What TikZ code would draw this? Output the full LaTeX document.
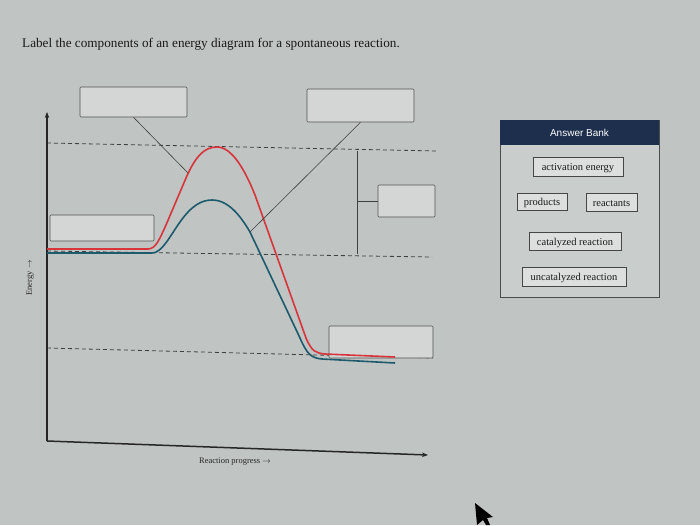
\documentclass[tikz,border=0pt]{standalone}
\usepackage{fontspec}
\setmainfont{Liberation Serif}
\newfontfamily\banksans{Liberation Sans}
\usetikzlibrary{arrows.meta,shadows}
\definecolor{screen}{HTML}{C0C4C2}
\definecolor{bankblue}{HTML}{1E2F4D}
\definecolor{uncatred}{HTML}{D8343C}
\definecolor{catblue}{HTML}{1D5B6C}
\tikzset{
  ansbox/.style={draw=gray!65!black,rounded corners=1pt,fill=white!30!screen,
    inner sep=0pt,line width=0.6pt},
  chip/.style={draw=gray!55!black,fill=white!45!screen,inner sep=0pt,
    text height=8pt,text depth=0pt,
    font=\fontsize{10.5}{11}\selectfont,text=black!90,line width=0.6pt,
    drop shadow={shadow xshift=0.8pt,shadow yshift=-0.8pt,opacity=0.3}},
  guide/.style={dash pattern=on 4pt off 3pt,black!75,line width=0.8pt},
  pointer/.style={black!75,line width=0.6pt},
  curve/.style={line width=1.6pt,line join=round},
}
\begin{document}
\begin{tikzpicture}[x=1pt,y=-1pt]
  \fill[screen] (0,0) rectangle (700,525);
  \useasboundingbox (0,0) rectangle (700,525);

  \node[anchor=west,inner sep=0pt,font=\fontsize{13.2}{15}\selectfont,text=black!90] (title) at (22,44)
    {Label the components of an energy diagram for a spontaneous reaction.};

  % guide lines
  \draw[guide] (47,143) -- (437,151);
  \draw[guide] (47,251) -- (432,257);
  \draw[guide] (47,348) -- (433,358);

  % axes
  \coordinate (O) at (47,441);
  \coordinate (ytop) at (47,112);
  \coordinate (xend) at (428,455);
  \draw[line width=1.5pt,black!85,-{Stealth[length=6pt,width=4.5pt]}] (O) -- (ytop);
  \draw[line width=1.5pt,black!85,-{Stealth[length=6pt,width=4.5pt]}] (O) -- (xend);
  \node[font=\fontsize{8.5}{9}\selectfont,text=black!85] (xlab) at (235,462) {Reaction progress $\rightarrow$};
  \node[rotate=90,font=\fontsize{8.5}{9}\selectfont,text=black!85] (ylab) at (30,278) {Energy $\rightarrow$};

  % answer boxes
  \node[ansbox,minimum width=107pt,minimum height=30pt] (boxUncat) at (133.5,102) {};
  \node[ansbox,minimum width=107pt,minimum height=33pt] (boxCat) at (360.5,105.5) {};
  \node[ansbox,minimum width=57pt,minimum height=32pt] (boxEa) at (406.5,201) {};
  \node[ansbox,minimum width=104pt,minimum height=26pt] (boxReact) at (102,228) {};
  \node[ansbox,minimum width=104pt,minimum height=32pt] (boxProd) at (381,342) {};

  % uncatalyzed
  \draw[curve,uncatred] (47,249) -- (148,249) .. controls (156,249) and (160,238) .. (166,225)
    -- (186,178) .. controls (196,155) and (205,147) .. (217,147)
    .. controls (232,147) and (245,170) .. (255,195) -- (306,338)
    .. controls (312,352) and (316,353) .. (325,354) -- (395,357);
  % catalyzed
  \draw[curve,catblue] (47,253) -- (152,253) .. controls (162,253) and (170,236) .. (180,222)
    .. controls (192,205) and (202,200) .. (212,200)
    .. controls (228,200) and (240,215) .. (250,232) -- (300,338)
    .. controls (307,354) and (311,358) .. (322,359) -- (395,363);

  \coordinate (onRed) at (188,173);
  \coordinate (onBlue) at (250,232);
  \coordinate (eaTop) at (357,151);
  \coordinate (eaBot) at (357,254);
  \draw[pointer] (boxUncat.south) -- (onRed);
  \draw[pointer] (boxCat.south) -- (onBlue);
  \draw[pointer] (eaTop) -- (eaBot);
  \draw[pointer] (eaTop |- boxEa.west) -- (boxEa.west);

  % answer bank
  \node[draw=gray!60!black,fill=white!15!screen,line width=0.6pt,minimum width=159pt,
    minimum height=177pt,inner sep=0pt] (bank) at (579.5,208.5) {};
  \node[fill=bankblue,minimum width=159pt,minimum height=25pt,inner sep=0pt,
    text=white,font=\banksans\fontsize{10}{11}\selectfont] (bankHead) at (579.5,132.5) {Answer Bank};
  \node[chip,minimum width=90pt,minimum height=19pt] (chipEa) at (578,166.5) {activation energy};
  \node[chip,minimum width=50pt,minimum height=17pt] (chipProd) at (542,201.5) {products};
  \node[chip,minimum width=51pt,minimum height=18pt] (chipReact) at (611.5,202) {reactants};
  \node[chip,minimum width=92pt,minimum height=18pt] (chipCat) at (575,241) {catalyzed reaction};
  \node[chip,minimum width=104pt,minimum height=19pt] (chipUncat) at (574,276.5) {uncatalyzed reaction};

  % mouse pointer
  \fill[black] (475,503) -- (477,525) -- (483,520) -- (486,525) -- (490,525)
    -- (487,518) -- (493,517) -- cycle;
\end{tikzpicture}
\end{document}
